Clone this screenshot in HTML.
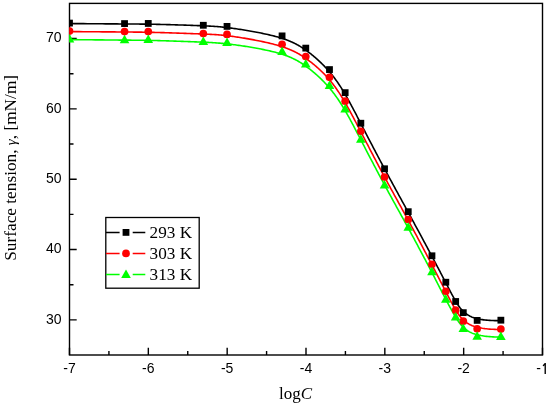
<!DOCTYPE html>
<html><head><meta charset="utf-8"><style>
html,body{margin:0;padding:0;background:#fff;}
svg{display:block;}
text{font-family:"Liberation Sans",Arial,sans-serif;font-size:14px;fill:#000;}
.serif{font-family:"Liberation Serif","Times New Roman",serif;}
.lg{font-size:17.2px;}
.yl{font-size:17.3px;}
.xl{font-size:17px;}
</style></head><body>
<svg width="550" height="406" viewBox="0 0 550 406">
<defs><clipPath id="c"><rect x="69.10" y="2.70" width="473.80" height="353.00"/></clipPath></defs>
<rect x="69.50" y="3.40" width="473.00" height="351.60" fill="none" stroke="#000" stroke-width="1.4"/>
<path d="M69.50,355.00V347.80M148.33,355.00V347.80M227.17,355.00V347.80M306.00,355.00V347.80M384.83,355.00V347.80M463.67,355.00V347.80M542.50,355.00V347.80M108.92,355.00V351.00M187.75,355.00V351.00M266.58,355.00V351.00M345.42,355.00V351.00M424.25,355.00V351.00M503.08,355.00V351.00M69.50,319.84H76.70M69.50,249.52H76.70M69.50,179.20H76.70M69.50,108.88H76.70M69.50,38.56H76.70M69.50,284.68H73.50M69.50,214.36H73.50M69.50,144.04H73.50M69.50,73.72H73.50" stroke="#000" stroke-width="1.4" fill="none"/>
<g clip-path="url(#c)">
<polyline points="69.50,23.09 74.35,23.13 78.97,23.17 83.37,23.21 87.57,23.24 91.55,23.28 95.35,23.31 98.95,23.33 102.37,23.36 105.62,23.38 108.70,23.41 111.62,23.43 114.39,23.45 117.02,23.46 119.52,23.48 121.88,23.50 124.12,23.51 126.26,23.52 128.28,23.54 130.21,23.55 132.05,23.56 133.80,23.58 135.48,23.59 137.09,23.60 138.64,23.62 140.14,23.63 141.59,23.64 143.01,23.66 144.40,23.68 145.76,23.69 147.11,23.71 148.45,23.73 149.80,23.75 151.15,23.77 152.51,23.80 153.90,23.83 155.29,23.85 156.70,23.88 158.13,23.92 159.56,23.95 161.01,23.98 162.46,24.02 163.92,24.06 165.39,24.09 166.86,24.13 168.33,24.17 169.80,24.21 171.28,24.26 172.75,24.30 174.22,24.34 175.69,24.39 177.15,24.43 178.60,24.48 180.05,24.52 181.48,24.57 182.91,24.62 184.32,24.66 185.72,24.71 187.10,24.76 188.47,24.81 189.82,24.85 191.14,24.90 192.45,24.95 193.74,24.99 195.00,25.04 196.24,25.08 197.45,25.13 198.64,25.17 199.80,25.22 200.93,25.26 202.04,25.30 203.12,25.35 204.18,25.39 205.23,25.44 206.26,25.48 207.27,25.53 208.27,25.58 209.25,25.63 210.23,25.68 211.20,25.74 212.16,25.79 213.11,25.85 214.06,25.91 215.01,25.98 215.96,26.05 216.91,26.12 217.86,26.20 218.82,26.28 219.78,26.37 220.76,26.45 221.74,26.55 222.73,26.65 223.74,26.76 224.76,26.87 225.80,26.98 226.86,27.11 227.94,27.24 229.04,27.37 230.16,27.51 231.31,27.66 232.48,27.82 233.69,27.99 234.92,28.16 236.17,28.34 237.45,28.52 238.74,28.72 240.06,28.92 241.40,29.12 242.75,29.34 244.11,29.56 245.49,29.78 246.88,30.02 248.28,30.25 249.69,30.50 251.10,30.74 252.51,31.00 253.93,31.26 255.35,31.52 256.77,31.79 258.19,32.07 259.60,32.35 261.00,32.63 262.40,32.92 263.79,33.21 265.16,33.50 266.53,33.80 267.88,34.11 269.21,34.41 270.53,34.73 271.82,35.04 273.10,35.36 274.35,35.68 275.57,36.00 276.77,36.32 277.94,36.65 279.09,36.98 280.20,37.31 281.30,37.65 282.36,37.99 283.41,38.33 284.42,38.68 285.42,39.03 286.40,39.38 287.35,39.74 288.29,40.10 289.20,40.47 290.10,40.84 290.98,41.22 291.84,41.60 292.69,41.98 293.52,42.37 294.34,42.77 295.15,43.17 295.94,43.58 296.73,43.99 297.50,44.41 298.26,44.84 299.02,45.27 299.76,45.71 300.50,46.16 301.23,46.61 301.96,47.07 302.68,47.54 303.40,48.02 304.12,48.50 304.83,48.99 305.54,49.49 306.26,50.00 306.97,50.51 307.68,51.04 308.39,51.57 309.10,52.11 309.81,52.66 310.52,53.21 311.23,53.77 311.93,54.34 312.64,54.91 313.34,55.49 314.04,56.08 314.73,56.67 315.43,57.27 316.12,57.87 316.81,58.48 317.49,59.09 318.17,59.71 318.85,60.34 319.52,60.96 320.19,61.60 320.85,62.23 321.51,62.87 322.17,63.52 322.81,64.16 323.46,64.81 324.10,65.47 324.73,66.12 325.35,66.78 325.97,67.44 326.59,68.11 327.19,68.77 327.79,69.44 328.39,70.11 328.97,70.78 329.55,71.45 330.12,72.12 330.69,72.80 331.25,73.48 331.80,74.16 332.35,74.84 332.89,75.53 333.42,76.22 333.95,76.91 334.48,77.60 335.00,78.30 335.52,79.00 336.03,79.71 336.54,80.41 337.04,81.13 337.54,81.84 338.04,82.56 338.53,83.29 339.02,84.02 339.51,84.75 340.00,85.49 340.48,86.24 340.96,86.99 341.44,87.74 341.92,88.50 342.39,89.27 342.87,90.04 343.34,90.82 343.81,91.61 344.28,92.40 344.75,93.19 345.22,94.00 345.70,94.81 346.17,95.63 346.64,96.45 347.11,97.28 347.59,98.12 348.06,98.97 348.54,99.83 349.01,100.69 349.49,101.56 349.97,102.45 350.46,103.34 350.94,104.24 351.43,105.14 351.92,106.06 352.42,106.99 352.92,107.93 353.42,108.87 353.92,109.83 354.43,110.80 354.94,111.78 355.46,112.77 355.98,113.77 356.51,114.78 357.04,115.80 357.58,116.84 358.12,117.89 358.67,118.95 359.23,120.02 359.79,121.10 360.35,122.20 360.93,123.31 361.51,124.43 362.10,125.57 362.69,126.71 363.29,127.88 363.90,129.05 364.52,130.24 365.14,131.44 365.76,132.65 366.40,133.87 367.04,135.10 367.68,136.34 368.33,137.59 368.99,138.85 369.65,140.12 370.31,141.39 370.98,142.67 371.66,143.96 372.33,145.26 373.02,146.56 373.70,147.87 374.39,149.18 375.08,150.49 375.78,151.82 376.47,153.14 377.17,154.47 377.87,155.80 378.58,157.13 379.28,158.46 379.99,159.80 380.70,161.13 381.41,162.47 382.12,163.80 382.83,165.14 383.54,166.47 384.26,167.80 384.97,169.13 385.68,170.46 386.40,171.78 387.11,173.11 387.82,174.43 388.53,175.74 389.25,177.06 389.96,178.38 390.67,179.69 391.38,181.00 392.10,182.31 392.81,183.62 393.52,184.93 394.23,186.24 394.95,187.55 395.66,188.85 396.37,190.16 397.08,191.46 397.80,192.76 398.51,194.07 399.22,195.37 399.94,196.67 400.65,197.97 401.36,199.28 402.07,200.58 402.79,201.88 403.50,203.18 404.21,204.49 404.92,205.79 405.64,207.09 406.35,208.40 407.06,209.71 407.77,211.01 408.49,212.32 409.20,213.63 409.91,214.94 410.62,216.25 411.33,217.55 412.04,218.86 412.75,220.17 413.46,221.47 414.16,222.77 414.86,224.07 415.56,225.36 416.26,226.65 416.95,227.93 417.65,229.21 418.33,230.49 419.02,231.75 419.69,233.01 420.37,234.27 421.04,235.51 421.70,236.75 422.36,237.98 423.02,239.20 423.67,240.41 424.31,241.60 424.95,242.79 425.58,243.97 426.20,245.13 426.82,246.29 427.43,247.42 428.03,248.55 428.62,249.66 429.21,250.76 429.78,251.84 430.35,252.91 430.91,253.96 431.46,255.00 432.01,256.02 432.54,257.02 433.07,258.01 433.58,258.99 434.09,259.95 434.59,260.90 435.09,261.83 435.58,262.75 436.06,263.66 436.53,264.56 436.99,265.44 437.45,266.31 437.90,267.17 438.35,268.01 438.79,268.85 439.22,269.67 439.65,270.49 440.07,271.29 440.48,272.08 440.89,272.86 441.30,273.64 441.70,274.40 442.09,275.15 442.48,275.90 442.86,276.64 443.24,277.37 443.62,278.09 443.99,278.80 444.36,279.51 444.72,280.20 445.08,280.90 445.43,281.58 445.78,282.26 446.13,282.93 446.48,283.60 446.82,284.25 447.16,284.91 447.49,285.55 447.82,286.19 448.15,286.82 448.47,287.45 448.80,288.07 449.11,288.68 449.43,289.28 449.74,289.88 450.05,290.47 450.36,291.06 450.66,291.64 450.96,292.21 451.26,292.77 451.56,293.33 451.85,293.88 452.14,294.42 452.43,294.96 452.71,295.49 452.99,296.01 453.27,296.52 453.55,297.03 453.83,297.53 454.10,298.02 454.37,298.51 454.64,298.99 454.91,299.46 455.17,299.92 455.44,300.38 455.70,300.83 455.96,301.27 456.21,301.71 456.47,302.14 456.73,302.56 456.99,302.98 457.25,303.39 457.51,303.80 457.77,304.20 458.03,304.59 458.30,304.98 458.57,305.37 458.84,305.75 459.12,306.13 459.40,306.50 459.68,306.87 459.97,307.24 460.27,307.60 460.57,307.96 460.87,308.32 461.19,308.67 461.51,309.02 461.83,309.38 462.17,309.72 462.51,310.07 462.87,310.42 463.23,310.76 463.60,311.10 463.98,311.45 464.37,311.79 464.77,312.13 465.18,312.47 465.61,312.82 466.05,313.16 466.50,313.50 466.97,313.84 467.46,314.18 467.97,314.52 468.50,314.85 469.07,315.18 469.66,315.51 470.28,315.83 470.94,316.14 471.63,316.45 472.36,316.75 473.14,317.04 473.95,317.33 474.81,317.60 475.72,317.87 476.68,318.12 477.70,318.36 478.77,318.60 479.89,318.81 481.08,319.02 482.33,319.21 483.64,319.39 485.03,319.55 486.48,319.69 488.00,319.82 489.60,319.93 491.27,320.02 493.02,320.10 494.86,320.15 496.77,320.19 498.78,320.20 500.87,320.19" fill="none" stroke="#000" stroke-width="1.6" transform="translate(0,0.45)"/>
<polyline points="69.50,31.11 74.35,31.15 78.97,31.19 83.37,31.23 87.57,31.26 91.55,31.30 95.35,31.33 98.95,31.36 102.37,31.38 105.62,31.41 108.70,31.43 111.62,31.45 114.39,31.47 117.02,31.49 119.52,31.51 121.88,31.53 124.12,31.55 126.26,31.57 128.28,31.58 130.21,31.60 132.05,31.62 133.80,31.63 135.48,31.65 137.09,31.67 138.64,31.68 140.14,31.70 141.59,31.72 143.01,31.74 144.40,31.76 145.76,31.78 147.11,31.80 148.45,31.83 149.80,31.86 151.15,31.88 152.51,31.91 153.90,31.95 155.29,31.98 156.70,32.01 158.13,32.05 159.56,32.09 161.01,32.13 162.46,32.17 163.92,32.21 165.39,32.26 166.86,32.30 168.33,32.35 169.80,32.40 171.28,32.44 172.75,32.49 174.22,32.54 175.69,32.59 177.15,32.64 178.60,32.69 180.05,32.74 181.48,32.79 182.91,32.84 184.32,32.89 185.72,32.94 187.10,32.99 188.47,33.04 189.82,33.09 191.14,33.14 192.45,33.18 193.74,33.23 195.00,33.28 196.24,33.32 197.45,33.37 198.64,33.41 199.80,33.45 200.93,33.50 202.04,33.54 203.12,33.58 204.18,33.62 205.23,33.66 206.26,33.70 207.27,33.75 208.27,33.79 209.25,33.84 210.23,33.88 211.20,33.93 212.16,33.98 213.11,34.04 214.06,34.10 215.01,34.16 215.96,34.22 216.91,34.29 217.86,34.36 218.82,34.44 219.78,34.52 220.76,34.60 221.74,34.69 222.73,34.79 223.74,34.89 224.76,35.00 225.80,35.11 226.86,35.24 227.94,35.36 229.04,35.50 230.16,35.64 231.31,35.79 232.48,35.95 233.69,36.11 234.92,36.28 236.17,36.47 237.45,36.65 238.74,36.85 240.06,37.05 241.40,37.26 242.75,37.48 244.11,37.71 245.49,37.94 246.88,38.17 248.28,38.42 249.69,38.66 251.10,38.92 252.51,39.18 253.93,39.45 255.35,39.72 256.77,39.99 258.19,40.27 259.60,40.56 261.00,40.85 262.40,41.15 263.79,41.44 265.16,41.75 266.53,42.05 267.88,42.36 269.21,42.68 270.53,43.00 271.82,43.32 273.10,43.64 274.35,43.97 275.57,44.30 276.77,44.63 277.94,44.96 279.09,45.30 280.20,45.63 281.30,45.98 282.36,46.32 283.41,46.67 284.42,47.02 285.42,47.37 286.40,47.73 287.35,48.09 288.29,48.45 289.20,48.82 290.10,49.20 290.98,49.57 291.84,49.96 292.69,50.34 293.52,50.73 294.34,51.13 295.15,51.53 295.94,51.94 296.73,52.35 297.50,52.77 298.26,53.19 299.02,53.62 299.76,54.06 300.50,54.50 301.23,54.95 301.96,55.40 302.68,55.87 303.40,56.34 304.12,56.81 304.83,57.29 305.54,57.79 306.26,58.28 306.97,58.79 307.68,59.30 308.39,59.82 309.10,60.35 309.81,60.89 310.52,61.43 311.23,61.98 311.93,62.53 312.64,63.09 313.34,63.66 314.04,64.23 314.73,64.81 315.43,65.40 316.12,65.99 316.81,66.58 317.49,67.18 318.17,67.79 318.85,68.40 319.52,69.02 320.19,69.64 320.85,70.27 321.51,70.90 322.17,71.53 322.81,72.17 323.46,72.82 324.10,73.46 324.73,74.12 325.35,74.77 325.97,75.43 326.59,76.09 327.19,76.75 327.79,77.42 328.39,78.09 328.97,78.77 329.55,79.44 330.12,80.12 330.69,80.80 331.25,81.49 331.80,82.18 332.35,82.87 332.89,83.57 333.42,84.27 333.95,84.97 334.48,85.68 335.00,86.39 335.52,87.10 336.03,87.82 336.54,88.54 337.04,89.27 337.54,90.00 338.04,90.73 338.53,91.47 339.02,92.22 339.51,92.97 340.00,93.72 340.48,94.48 340.96,95.24 341.44,96.01 341.92,96.78 342.39,97.56 342.87,98.34 343.34,99.13 343.81,99.92 344.28,100.72 344.75,101.52 345.22,102.33 345.70,103.15 346.17,103.97 346.64,104.80 347.11,105.63 347.59,106.48 348.06,107.32 348.54,108.18 349.01,109.04 349.49,109.91 349.97,110.79 350.46,111.68 350.94,112.57 351.43,113.48 351.92,114.39 352.42,115.31 352.92,116.24 353.42,117.18 353.92,118.14 354.43,119.10 354.94,120.07 355.46,121.05 355.98,122.05 356.51,123.05 357.04,124.07 357.58,125.10 358.12,126.14 358.67,127.19 359.23,128.25 359.79,129.33 360.35,130.42 360.93,131.53 361.51,132.65 362.10,133.78 362.69,134.92 363.29,136.08 363.90,137.26 364.52,138.44 365.14,139.64 365.76,140.85 366.40,142.07 367.04,143.30 367.68,144.54 368.33,145.79 368.99,147.05 369.65,148.31 370.31,149.59 370.98,150.87 371.66,152.16 372.33,153.46 373.02,154.76 373.70,156.07 374.39,157.38 375.08,158.70 375.78,160.02 376.47,161.34 377.17,162.67 377.87,164.00 378.58,165.33 379.28,166.66 379.99,168.00 380.70,169.33 381.41,170.67 382.12,172.00 382.83,173.33 383.54,174.66 384.26,175.99 384.97,177.31 385.68,178.63 386.40,179.95 387.11,181.27 387.82,182.58 388.53,183.90 389.25,185.20 389.96,186.51 390.67,187.82 391.38,189.12 392.10,190.43 392.81,191.73 393.52,193.03 394.23,194.33 394.95,195.62 395.66,196.92 396.37,198.22 397.08,199.51 397.80,200.81 398.51,202.11 399.22,203.40 399.94,204.70 400.65,205.99 401.36,207.29 402.07,208.59 402.79,209.89 403.50,211.19 404.21,212.49 404.92,213.79 405.64,215.09 406.35,216.40 407.06,217.70 407.77,219.01 408.49,220.32 409.20,221.63 409.91,222.95 410.62,224.26 411.33,225.58 412.04,226.89 412.75,228.20 413.46,229.52 414.16,230.83 414.86,232.14 415.56,233.44 416.26,234.74 416.95,236.04 417.65,237.33 418.33,238.62 419.02,239.90 419.69,241.18 420.37,242.45 421.04,243.71 421.70,244.96 422.36,246.21 423.02,247.45 423.67,248.67 424.31,249.89 424.95,251.10 425.58,252.29 426.20,253.48 426.82,254.65 427.43,255.81 428.03,256.95 428.62,258.08 429.21,259.20 429.78,260.30 430.35,261.39 430.91,262.46 431.46,263.51 432.01,264.55 432.54,265.58 433.07,266.59 433.58,267.58 434.09,268.56 434.59,269.53 435.09,270.48 435.58,271.42 436.06,272.34 436.53,273.26 436.99,274.16 437.45,275.04 437.90,275.92 438.35,276.78 438.79,277.63 439.22,278.47 439.65,279.29 440.07,280.11 440.48,280.91 440.89,281.71 441.30,282.49 441.70,283.27 442.09,284.03 442.48,284.79 442.86,285.53 443.24,286.27 443.62,287.00 443.99,287.71 444.36,288.42 444.72,289.13 445.08,289.82 445.43,290.51 445.78,291.19 446.13,291.86 446.48,292.53 446.82,293.18 447.16,293.83 447.49,294.48 447.82,295.11 448.15,295.74 448.47,296.36 448.80,296.97 449.11,297.58 449.43,298.18 449.74,298.77 450.05,299.35 450.36,299.93 450.66,300.50 450.96,301.06 451.26,301.62 451.56,302.16 451.85,302.70 452.14,303.24 452.43,303.76 452.71,304.28 452.99,304.79 453.27,305.30 453.55,305.80 453.83,306.29 454.10,306.77 454.37,307.25 454.64,307.72 454.91,308.18 455.17,308.63 455.44,309.08 455.70,309.52 455.96,309.96 456.21,310.39 456.47,310.81 456.73,311.22 456.99,311.63 457.25,312.04 457.51,312.44 457.77,312.83 458.03,313.22 458.30,313.61 458.57,313.99 458.84,314.36 459.12,314.73 459.40,315.10 459.68,315.47 459.97,315.83 460.27,316.19 460.57,316.54 460.87,316.90 461.19,317.25 461.51,317.59 461.83,317.94 462.17,318.28 462.51,318.63 462.87,318.97 463.23,319.31 463.60,319.65 463.98,319.99 464.37,320.33 464.77,320.67 465.18,321.00 465.61,321.34 466.05,321.68 466.50,322.02 466.97,322.36 467.46,322.69 467.97,323.03 468.50,323.36 469.07,323.69 469.66,324.01 470.28,324.33 470.94,324.65 471.63,324.95 472.36,325.26 473.14,325.55 473.95,325.84 474.81,326.12 475.72,326.39 476.68,326.66 477.70,326.91 478.77,327.15 479.89,327.38 481.08,327.60 482.33,327.81 483.64,328.00 485.03,328.19 486.48,328.35 488.00,328.51 489.60,328.64 491.27,328.77 493.02,328.87 494.86,328.96 496.77,329.03 498.78,329.09 500.87,329.12" fill="none" stroke="#ff0000" stroke-width="1.6" transform="translate(0,0.45)"/>
<polyline points="69.50,39.12 74.35,39.18 78.97,39.23 83.37,39.28 87.57,39.32 91.55,39.36 95.35,39.40 98.95,39.44 102.37,39.47 105.62,39.50 108.70,39.53 111.62,39.56 114.39,39.58 117.02,39.61 119.52,39.63 121.88,39.65 124.12,39.67 126.26,39.69 128.28,39.70 130.21,39.72 132.05,39.74 133.80,39.75 135.48,39.77 137.09,39.79 138.64,39.80 140.14,39.82 141.59,39.84 143.01,39.86 144.40,39.88 145.76,39.90 147.11,39.92 148.45,39.94 149.80,39.97 151.15,39.99 152.51,40.02 153.90,40.05 155.29,40.09 156.70,40.12 158.13,40.16 159.56,40.20 161.01,40.24 162.46,40.28 163.92,40.32 165.39,40.36 166.86,40.41 168.33,40.46 169.80,40.50 171.28,40.55 172.75,40.60 174.22,40.65 175.69,40.70 177.15,40.75 178.60,40.80 180.05,40.85 181.48,40.90 182.91,40.96 184.32,41.01 185.72,41.06 187.10,41.11 188.47,41.16 189.82,41.22 191.14,41.27 192.45,41.32 193.74,41.37 195.00,41.42 196.24,41.46 197.45,41.51 198.64,41.56 199.80,41.60 200.93,41.65 202.04,41.69 203.12,41.74 204.18,41.78 205.23,41.83 206.26,41.87 207.27,41.92 208.27,41.97 209.25,42.02 210.23,42.07 211.20,42.12 212.16,42.17 213.11,42.23 214.06,42.29 215.01,42.35 215.96,42.41 216.91,42.48 217.86,42.55 218.82,42.63 219.78,42.71 220.76,42.79 221.74,42.88 222.73,42.97 223.74,43.07 224.76,43.17 225.80,43.28 226.86,43.40 227.94,43.52 229.04,43.64 230.16,43.78 231.31,43.92 232.48,44.06 233.69,44.22 234.92,44.38 236.17,44.55 237.45,44.72 238.74,44.90 240.06,45.09 241.40,45.29 242.75,45.49 244.11,45.69 245.49,45.91 246.88,46.13 248.28,46.35 249.69,46.58 251.10,46.82 252.51,47.06 253.93,47.31 255.35,47.56 256.77,47.82 258.19,48.08 259.60,48.35 261.00,48.62 262.40,48.90 263.79,49.18 265.16,49.47 266.53,49.76 267.88,50.05 269.21,50.35 270.53,50.65 271.82,50.96 273.10,51.27 274.35,51.58 275.57,51.90 276.77,52.22 277.94,52.55 279.09,52.88 280.20,53.21 281.30,53.54 282.36,53.88 283.41,54.23 284.42,54.57 285.42,54.92 286.40,55.28 287.35,55.64 288.29,56.01 289.20,56.38 290.10,56.75 290.98,57.13 291.84,57.52 292.69,57.91 293.52,58.30 294.34,58.71 295.15,59.11 295.94,59.53 296.73,59.95 297.50,60.37 298.26,60.81 299.02,61.25 299.76,61.69 300.50,62.15 301.23,62.60 301.96,63.07 302.68,63.55 303.40,64.03 304.12,64.52 304.83,65.01 305.54,65.52 306.26,66.03 306.97,66.55 307.68,67.08 308.39,67.62 309.10,68.16 309.81,68.71 310.52,69.27 311.23,69.83 311.93,70.40 312.64,70.98 313.34,71.57 314.04,72.16 314.73,72.75 315.43,73.35 316.12,73.96 316.81,74.57 317.49,75.19 318.17,75.81 318.85,76.44 319.52,77.07 320.19,77.70 320.85,78.34 321.51,78.99 322.17,79.63 322.81,80.28 323.46,80.94 324.10,81.60 324.73,82.26 325.35,82.92 325.97,83.58 326.59,84.25 327.19,84.92 327.79,85.60 328.39,86.27 328.97,86.95 329.55,87.63 330.12,88.31 330.69,88.99 331.25,89.67 331.80,90.36 332.35,91.05 332.89,91.75 333.42,92.44 333.95,93.14 334.48,93.84 335.00,94.55 335.52,95.26 336.03,95.97 336.54,96.69 337.04,97.41 337.54,98.13 338.04,98.86 338.53,99.59 339.02,100.33 339.51,101.07 340.00,101.81 340.48,102.56 340.96,103.32 341.44,104.08 341.92,104.84 342.39,105.61 342.87,106.39 343.34,107.17 343.81,107.96 344.28,108.75 344.75,109.55 345.22,110.36 345.70,111.17 346.17,111.99 346.64,112.81 347.11,113.64 347.59,114.48 348.06,115.33 348.54,116.18 349.01,117.04 349.49,117.91 349.97,118.79 350.46,119.68 350.94,120.57 351.43,121.48 351.92,122.39 352.42,123.31 352.92,124.24 353.42,125.19 353.92,126.14 354.43,127.10 354.94,128.08 355.46,129.06 355.98,130.06 356.51,131.06 357.04,132.08 357.58,133.11 358.12,134.15 358.67,135.21 359.23,136.28 359.79,137.35 360.35,138.45 360.93,139.55 361.51,140.67 362.10,141.80 362.69,142.95 363.29,144.11 363.90,145.28 364.52,146.47 365.14,147.66 365.76,148.87 366.40,150.09 367.04,151.32 367.68,152.56 368.33,153.81 368.99,155.07 369.65,156.33 370.31,157.61 370.98,158.89 371.66,160.18 372.33,161.47 373.02,162.77 373.70,164.07 374.39,165.38 375.08,166.70 375.78,168.02 376.47,169.34 377.17,170.66 377.87,171.99 378.58,173.31 379.28,174.64 379.99,175.97 380.70,177.30 381.41,178.63 382.12,179.96 382.83,181.29 383.54,182.61 384.26,183.93 384.97,185.25 385.68,186.57 386.40,187.88 387.11,189.20 387.82,190.50 388.53,191.81 389.25,193.11 389.96,194.42 390.67,195.72 391.38,197.02 392.10,198.31 392.81,199.61 393.52,200.90 394.23,202.19 394.95,203.49 395.66,204.78 396.37,206.07 397.08,207.36 397.80,208.65 398.51,209.94 399.22,211.23 399.94,212.52 400.65,213.81 401.36,215.10 402.07,216.39 402.79,217.68 403.50,218.98 404.21,220.27 404.92,221.57 405.64,222.87 406.35,224.17 407.06,225.47 407.77,226.77 408.49,228.07 409.20,229.38 409.91,230.69 410.62,232.00 411.33,233.31 412.04,234.62 412.75,235.93 413.46,237.24 414.16,238.54 414.86,239.85 415.56,241.15 416.26,242.45 416.95,243.74 417.65,245.03 418.33,246.31 419.02,247.59 419.69,248.87 420.37,250.13 421.04,251.39 421.70,252.65 422.36,253.89 423.02,255.13 423.67,256.35 424.31,257.57 424.95,258.77 425.58,259.97 426.20,261.15 426.82,262.33 427.43,263.49 428.03,264.63 428.62,265.77 429.21,266.89 429.78,267.99 430.35,269.08 430.91,270.16 431.46,271.22 432.01,272.26 432.54,273.29 433.07,274.30 433.58,275.30 434.09,276.29 434.59,277.26 435.09,278.22 435.58,279.16 436.06,280.09 436.53,281.01 436.99,281.91 437.45,282.81 437.90,283.68 438.35,284.55 438.79,285.40 439.22,286.25 439.65,287.08 440.07,287.90 440.48,288.70 440.89,289.50 441.30,290.28 441.70,291.06 442.09,291.82 442.48,292.57 442.86,293.32 443.24,294.05 443.62,294.77 443.99,295.49 444.36,296.19 444.72,296.89 445.08,297.58 445.43,298.25 445.78,298.92 446.13,299.58 446.48,300.24 446.82,300.88 447.16,301.52 447.49,302.14 447.82,302.76 448.15,303.38 448.47,303.98 448.80,304.58 449.11,305.16 449.43,305.74 449.74,306.32 450.05,306.88 450.36,307.44 450.66,307.99 450.96,308.54 451.26,309.07 451.56,309.60 451.85,310.13 452.14,310.64 452.43,311.15 452.71,311.65 452.99,312.15 453.27,312.64 453.55,313.12 453.83,313.60 454.10,314.07 454.37,314.53 454.64,314.99 454.91,315.44 455.17,315.89 455.44,316.33 455.70,316.77 455.96,317.20 456.21,317.62 456.47,318.04 456.73,318.45 456.99,318.86 457.25,319.27 457.51,319.67 457.77,320.06 458.03,320.45 458.30,320.84 458.57,321.23 458.84,321.61 459.12,321.98 459.40,322.36 459.68,322.73 459.97,323.10 460.27,323.46 460.57,323.82 460.87,324.19 461.19,324.54 461.51,324.90 461.83,325.26 462.17,325.61 462.51,325.96 462.87,326.31 463.23,326.66 463.60,327.01 463.98,327.36 464.37,327.70 464.77,328.05 465.18,328.40 465.61,328.74 466.05,329.09 466.50,329.44 466.97,329.78 467.46,330.13 467.97,330.47 468.50,330.80 469.07,331.14 469.66,331.47 470.28,331.79 470.94,332.11 471.63,332.43 472.36,332.74 473.14,333.04 473.95,333.33 474.81,333.62 475.72,333.90 476.68,334.16 477.70,334.42 478.77,334.67 479.89,334.90 481.08,335.13 482.33,335.34 483.64,335.54 485.03,335.73 486.48,335.90 488.00,336.06 489.60,336.20 491.27,336.33 493.02,336.44 494.86,336.54 496.77,336.62 498.78,336.68 500.87,336.72" fill="none" stroke="#00ff00" stroke-width="1.6" transform="translate(0,0.45)"/>
<rect x="66.10" y="19.69" width="6.8" height="6.8" fill="#000"/>
<rect x="121.15" y="20.18" width="6.8" height="6.8" fill="#000"/>
<rect x="144.86" y="20.04" width="6.8" height="6.8" fill="#000"/>
<rect x="199.91" y="21.87" width="6.8" height="6.8" fill="#000"/>
<rect x="223.62" y="22.99" width="6.8" height="6.8" fill="#000"/>
<rect x="278.67" y="32.49" width="6.8" height="6.8" fill="#000"/>
<rect x="302.38" y="44.72" width="6.8" height="6.8" fill="#000"/>
<rect x="326.09" y="66.17" width="6.8" height="6.8" fill="#000"/>
<rect x="341.76" y="89.24" width="6.8" height="6.8" fill="#000"/>
<rect x="357.44" y="119.83" width="6.8" height="6.8" fill="#000"/>
<rect x="381.14" y="165.37" width="6.8" height="6.8" fill="#000"/>
<rect x="404.85" y="208.29" width="6.8" height="6.8" fill="#000"/>
<rect x="428.56" y="252.38" width="6.8" height="6.8" fill="#000"/>
<rect x="442.42" y="278.83" width="6.8" height="6.8" fill="#000"/>
<rect x="452.26" y="298.09" width="6.8" height="6.8" fill="#000"/>
<rect x="459.90" y="309.25" width="6.8" height="6.8" fill="#000"/>
<rect x="473.76" y="317.00" width="6.8" height="6.8" fill="#000"/>
<rect x="497.47" y="316.79" width="6.8" height="6.8" fill="#000"/>
<circle cx="69.50" cy="31.11" r="3.85" fill="#ff0000"/>
<circle cx="124.55" cy="31.60" r="3.85" fill="#ff0000"/>
<circle cx="148.26" cy="31.53" r="3.85" fill="#ff0000"/>
<circle cx="203.31" cy="33.60" r="3.85" fill="#ff0000"/>
<circle cx="227.02" cy="34.41" r="3.85" fill="#ff0000"/>
<circle cx="282.07" cy="44.23" r="3.85" fill="#ff0000"/>
<circle cx="305.78" cy="56.54" r="3.85" fill="#ff0000"/>
<circle cx="329.49" cy="77.31" r="3.85" fill="#ff0000"/>
<circle cx="345.16" cy="101.18" r="3.85" fill="#ff0000"/>
<circle cx="360.84" cy="131.33" r="3.85" fill="#ff0000"/>
<circle cx="384.54" cy="177.07" r="3.85" fill="#ff0000"/>
<circle cx="408.25" cy="219.49" r="3.85" fill="#ff0000"/>
<circle cx="431.96" cy="264.27" r="3.85" fill="#ff0000"/>
<circle cx="445.82" cy="291.34" r="3.85" fill="#ff0000"/>
<circle cx="455.66" cy="310.14" r="3.85" fill="#ff0000"/>
<circle cx="463.30" cy="321.18" r="3.85" fill="#ff0000"/>
<circle cx="477.16" cy="328.84" r="3.85" fill="#ff0000"/>
<circle cx="500.87" cy="329.12" r="3.85" fill="#ff0000"/>
<polygon points="69.50,34.02 64.70,42.52 74.30,42.52" fill="#00ff00"/>
<polygon points="124.55,34.66 119.75,43.16 129.35,43.16" fill="#00ff00"/>
<polygon points="148.26,34.51 143.46,43.01 153.06,43.01" fill="#00ff00"/>
<polygon points="203.31,36.62 198.51,45.12 208.11,45.12" fill="#00ff00"/>
<polygon points="227.02,37.61 222.22,46.11 231.82,46.11" fill="#00ff00"/>
<polygon points="282.07,46.54 277.27,55.04 286.87,55.04" fill="#00ff00"/>
<polygon points="305.78,59.11 300.98,67.61 310.58,67.61" fill="#00ff00"/>
<polygon points="329.49,80.57 324.69,89.07 334.29,89.07" fill="#00ff00"/>
<polygon points="345.16,104.01 340.36,112.51 349.96,112.51" fill="#00ff00"/>
<polygon points="360.84,134.30 356.04,142.80 365.64,142.80" fill="#00ff00"/>
<polygon points="384.54,179.94 379.74,188.44 389.34,188.44" fill="#00ff00"/>
<polygon points="408.25,222.13 403.45,230.63 413.05,230.63" fill="#00ff00"/>
<polygon points="431.96,266.78 427.16,275.28 436.76,275.28" fill="#00ff00"/>
<polygon points="445.82,294.21 441.02,302.71 450.62,302.71" fill="#00ff00"/>
<polygon points="455.66,312.06 450.86,320.56 460.46,320.56" fill="#00ff00"/>
<polygon points="463.30,323.53 458.50,332.03 468.10,332.03" fill="#00ff00"/>
<polygon points="477.16,331.27 472.36,339.77 481.96,339.77" fill="#00ff00"/>
<polygon points="500.87,331.62 496.07,340.12 505.67,340.12" fill="#00ff00"/>
</g>
<text x="69.50" y="373.3" text-anchor="middle">-7</text>
<text x="148.33" y="373.3" text-anchor="middle">-6</text>
<text x="227.17" y="373.3" text-anchor="middle">-5</text>
<text x="306.00" y="373.3" text-anchor="middle">-4</text>
<text x="384.83" y="373.3" text-anchor="middle">-3</text>
<text x="463.67" y="373.3" text-anchor="middle">-2</text>
<text x="542.50" y="373.3" text-anchor="middle">-<tspan font-family="NanumGothic, Liberation Sans, sans-serif" font-size="13px" font-weight="bold" dy="0.8">1</tspan></text>
<text x="61.5" y="323.64" text-anchor="end">30</text>
<text x="61.5" y="253.32" text-anchor="end">40</text>
<text x="61.5" y="183.00" text-anchor="end">50</text>
<text x="61.5" y="112.68" text-anchor="end">60</text>
<text x="61.5" y="42.36" text-anchor="end">70</text>
<rect x="105.8" y="217.5" width="93.4" height="70.7" fill="#fff" stroke="#000" stroke-width="1.3"/>
<path d="M106,232.4H119.6M132.7,232.4H145.3" stroke="#000" stroke-width="1.5"/>
<rect x="122.6" y="229.0" width="6.8" height="6.8" fill="#000"/>
<text x="149.6" y="237.9" class="serif lg">293 K</text>
<path d="M106,253.4H119.6M132.7,253.4H145.3" stroke="#ff0000" stroke-width="1.5"/>
<circle cx="126" cy="253.4" r="3.85" fill="#ff0000"/>
<text x="149.6" y="258.9" class="serif lg">303 K</text>
<path d="M106,274.6H119.6M132.7,274.6H145.3" stroke="#00ff00" stroke-width="1.5"/>
<polygon points="126,269.50 121.2,278.00 130.8,278.00" fill="#00ff00"/>
<text x="149.6" y="280.1" class="serif lg">313 K</text>
<text class="serif xl" x="279" y="399">log<tspan font-style="italic">C</tspan></text>
<text class="serif yl" transform="translate(15.8,260.8) rotate(-90)">Surface tension, <tspan font-style="italic" font-size="15px">γ</tspan>, [mN/m]</text>
</svg>
</body></html>
